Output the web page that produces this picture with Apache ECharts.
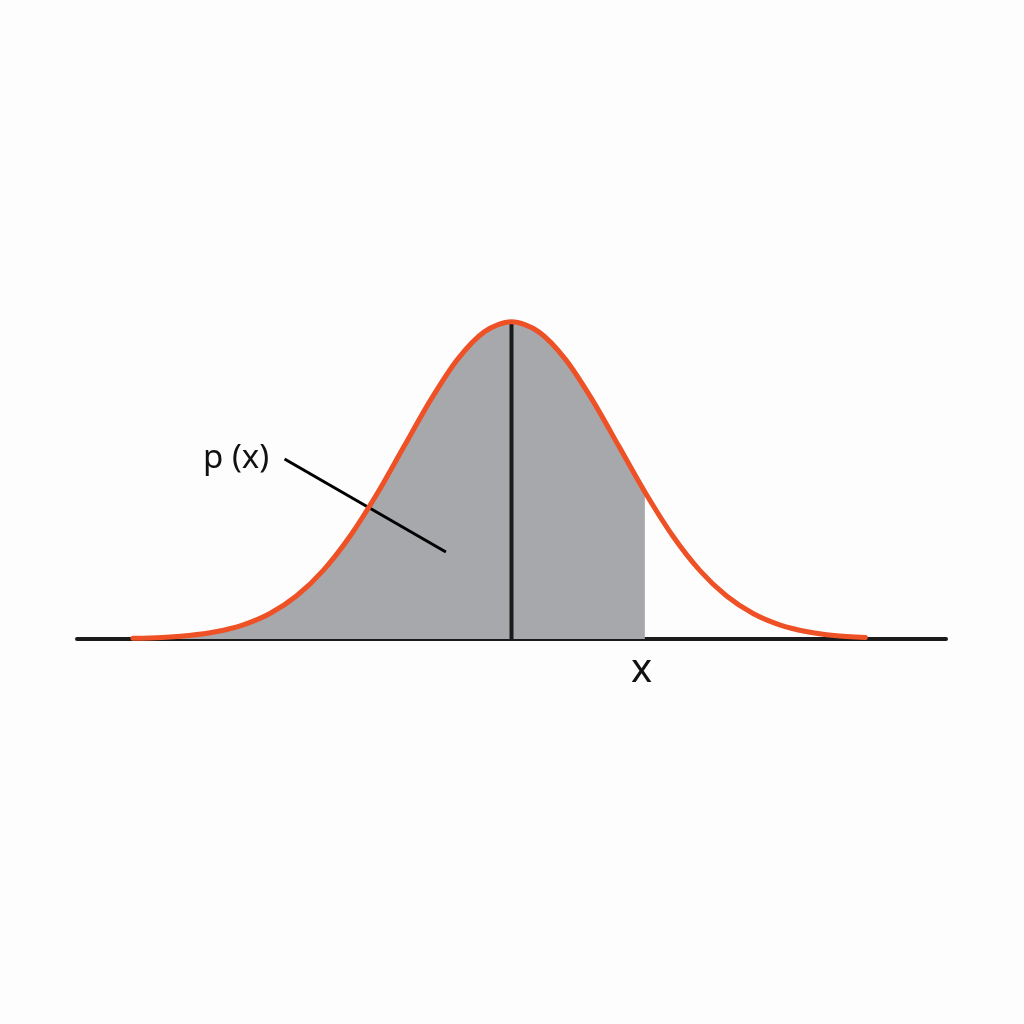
<!DOCTYPE html>
<html>
<head>
<meta charset="utf-8">
<script src="https://cdn.jsdelivr.net/npm/echarts@6/dist/echarts.min.js"></script>
<style>html,body{margin:0;padding:0;background:#fdfdfd;}#c{width:1024px;height:1024px;}</style>
</head>
<body>
<div id="c"></div>
<script>
// Standardised x (in units of sigma) and density values
var curveX = [-3.52, -3.25, -3.0, -2.75, -2.5, -2.25, -2.0, -1.75, -1.5, -1.25, -1.0, -0.75, -0.5, -0.25, 0, 0.25, 0.5, 0.75, 1.0, 1.24, 1.5, 1.75, 2.0, 2.25, 2.5, 2.75, 3.0, 3.29];
var curveY = [0.0008, 0.0020, 0.0044, 0.0091, 0.0175, 0.0317, 0.0540, 0.0863, 0.1295, 0.1826, 0.2420, 0.3011, 0.3521, 0.3867, 0.3989, 0.3867, 0.3521, 0.3011, 0.2420, 0.1849, 0.1295, 0.0863, 0.0540, 0.0317, 0.0175, 0.0091, 0.0044, 0.0018];
var shadeEndX = 1.24;              // the marked value "x"
var meanX = 0;                     // centre line
var peakY = 0.3989;
var leaderStart = [-2.11, 0.2265]; // end near "p (x)" label
var leaderEnd = [-0.61, 0.1095];   // end inside the shaded area
var labelP = 'p (x)';
var labelX = 'x';

var curveData = curveX.map(function (x, i) { return [x, curveY[i]]; });
var shadeData = curveData.filter(function (d) { return d[0] <= shadeEndX; });

var chart = echarts.init(document.getElementById('c'), null, { renderer: 'canvas' });
chart.setOption({
  backgroundColor: '#fdfdfd',
  animation: false,
  grid: { left: 77, right: 78, top: 321, bottom: 385 },
  xAxis: {
    type: 'value', min: -4.04, max: 4.04,
    axisLine: { show: true, onZero: true, lineStyle: { color: '#1a1a1a', width: 4, cap: 'round' } },
    axisTick: { show: false }, axisLabel: { show: false }, splitLine: { show: false }
  },
  yAxis: {
    type: 'value', min: 0, max: 0.4,
    axisLine: { show: false }, axisTick: { show: false }, axisLabel: { show: false }, splitLine: { show: false }
  },
  series: [
    {
      type: 'line', data: shadeData, smooth: 0.3, symbol: 'none',
      lineStyle: { width: 0 }, areaStyle: { color: '#a7a8ab', opacity: 1 }, z: 1
    },
    {
      type: 'line', data: [[meanX, 0], [meanX, peakY]], symbol: 'none',
      lineStyle: { color: '#1a1a1a', width: 4 }, z: 2
    },
    {
      type: 'line', data: [leaderStart, leaderEnd], symbol: 'none',
      lineStyle: { color: '#000000', width: 3 }, z: 3
    },
    {
      type: 'line', data: curveData, smooth: 0.3, symbol: 'none',
      lineStyle: { color: '#ee5125', width: 5, cap: 'round' }, z: 4
    }
  ],
  graphic: [
    { type: 'text', left: 203, top: 442, style: { text: labelP, font: '33px "Noto Sans"', fill: '#111' } },
    { type: 'text', left: 631, top: 651, style: { text: labelX, font: '40px "Noto Sans"', fill: '#111' } }
  ]
});
</script>
</body>
</html>
